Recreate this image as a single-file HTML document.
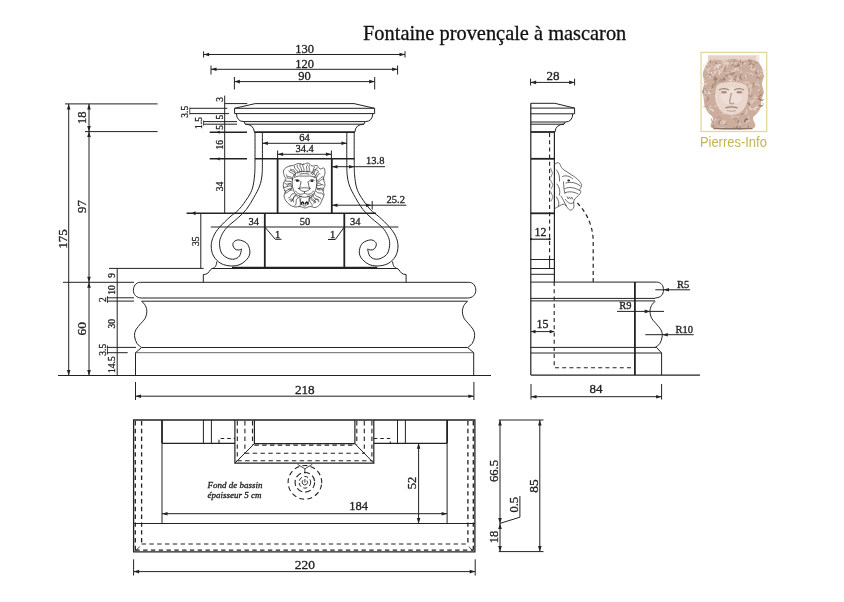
<!DOCTYPE html>
<html><head><meta charset="utf-8"><style>
html,body{margin:0;padding:0;background:#fff;}
svg{display:block;will-change:transform;}
</style></head><body>
<svg width="844" height="602" viewBox="0 0 844 602">
<rect width="844" height="602" fill="#fff"/>
<text x="363" y="39.9" text-anchor="start" font-family="Liberation Serif" font-size="20.4" fill="#111" stroke="#111" stroke-width="0.3" >Fontaine provençale à mascaron</text>
<line x1="203.6" y1="54.5" x2="405" y2="54.5" stroke="#222" stroke-width="1.0"/>
<line x1="203.6" y1="51.3" x2="203.6" y2="57.5" stroke="#222" stroke-width="1.0"/>
<line x1="405" y1="51.3" x2="405" y2="57.5" stroke="#222" stroke-width="1.0"/>
<polygon points="203.60,54.50 209.10,52.70 209.10,56.30" fill="#222"/>
<polygon points="405.00,54.50 399.50,52.70 399.50,56.30" fill="#222"/>
<text x="304.5" y="52.9" text-anchor="middle" font-family="Liberation Serif" font-size="12.5" fill="#222" stroke="#222" stroke-width="0.3" >130</text>
<line x1="211" y1="69.3" x2="397.6" y2="69.3" stroke="#222" stroke-width="1.0"/>
<line x1="211" y1="65.5" x2="211" y2="74.5" stroke="#222" stroke-width="1.0"/>
<line x1="397.6" y1="65.5" x2="397.6" y2="74.5" stroke="#222" stroke-width="1.0"/>
<polygon points="211.00,69.30 216.50,67.50 216.50,71.10" fill="#222"/>
<polygon points="397.60,69.30 392.10,67.50 392.10,71.10" fill="#222"/>
<text x="304.5" y="67.6" text-anchor="middle" font-family="Liberation Serif" font-size="12.5" fill="#222" stroke="#222" stroke-width="0.3" >120</text>
<line x1="234.4" y1="81.6" x2="374.7" y2="81.6" stroke="#222" stroke-width="1.0"/>
<line x1="234.4" y1="77" x2="234.4" y2="89.5" stroke="#222" stroke-width="1.0"/>
<line x1="374.7" y1="77" x2="374.7" y2="89.5" stroke="#222" stroke-width="1.0"/>
<polygon points="234.40,81.60 239.90,79.80 239.90,83.40" fill="#222"/>
<polygon points="374.70,81.60 369.20,79.80 369.20,83.40" fill="#222"/>
<text x="304.5" y="79.9" text-anchor="middle" font-family="Liberation Serif" font-size="12.5" fill="#222" stroke="#222" stroke-width="0.3" >90</text>
<line x1="65" y1="103.9" x2="157.6" y2="103.9" stroke="#222" stroke-width="1.0"/>
<line x1="85" y1="131.6" x2="157.6" y2="131.6" stroke="#222" stroke-width="1.0"/>
<line x1="68.7" y1="103.9" x2="68.7" y2="375.4" stroke="#222" stroke-width="1.0"/>
<polygon points="68.70,103.90 66.90,109.40 70.50,109.40" fill="#222"/>
<polygon points="68.70,375.40 66.90,369.90 70.50,369.90" fill="#222"/>
<line x1="89" y1="103.9" x2="89" y2="375.4" stroke="#222" stroke-width="1.0"/>
<polygon points="89.00,103.90 87.20,109.40 90.80,109.40" fill="#222"/>
<polygon points="89.00,131.60 87.20,126.10 90.80,126.10" fill="#222"/>
<polygon points="89.00,131.60 87.20,137.10 90.80,137.10" fill="#222"/>
<polygon points="89.00,282.30 87.20,276.80 90.80,276.80" fill="#222"/>
<polygon points="89.00,282.30 87.20,287.80 90.80,287.80" fill="#222"/>
<polygon points="89.00,375.40 87.20,369.90 90.80,369.90" fill="#222"/>
<text transform="translate(82.2,117.7) rotate(-90)" text-anchor="middle" dominant-baseline="central" font-family="Liberation Serif" font-size="12.5" fill="#222" stroke="#222" stroke-width="0.3" >18</text>
<text transform="translate(82.4,206.6) rotate(-90)" text-anchor="middle" dominant-baseline="central" font-family="Liberation Serif" font-size="12.8" fill="#222" stroke="#222" stroke-width="0.3" >97</text>
<text transform="translate(62.5,239) rotate(-90)" text-anchor="middle" dominant-baseline="central" font-family="Liberation Serif" font-size="13" fill="#222" stroke="#222" stroke-width="0.3" >175</text>
<text transform="translate(81.9,328.8) rotate(-90)" text-anchor="middle" dominant-baseline="central" font-family="Liberation Serif" font-size="13.5" fill="#222" stroke="#222" stroke-width="0.3" >60</text>
<line x1="63" y1="282.3" x2="134" y2="282.3" stroke="#222" stroke-width="1.0"/>
<line x1="58" y1="375.5" x2="491" y2="375.5" stroke="#222" stroke-width="1.1"/>
<line x1="109" y1="268.4" x2="203.7" y2="268.4" stroke="#222" stroke-width="1.0"/>
<line x1="117.2" y1="268.4" x2="117.2" y2="375.5" stroke="#222" stroke-width="1.0"/>
<line x1="106.8" y1="297.8" x2="134" y2="297.8" stroke="#222" stroke-width="1.0"/>
<line x1="106.8" y1="301.1" x2="134" y2="301.1" stroke="#222" stroke-width="1.0"/>
<line x1="106.8" y1="347.4" x2="136" y2="347.4" stroke="#222" stroke-width="1.0"/>
<line x1="106.8" y1="352.7" x2="127.7" y2="352.7" stroke="#222" stroke-width="1.0"/>
<line x1="107.5" y1="296" x2="107.5" y2="303" stroke="#222" stroke-width="0.8"/>
<line x1="107.5" y1="345.5" x2="107.5" y2="354.5" stroke="#222" stroke-width="0.8"/>
<text transform="translate(111.9,275.3) rotate(-90)" text-anchor="middle" dominant-baseline="central" font-family="Liberation Serif" font-size="9.5" fill="#222" stroke="#222" stroke-width="0.3" >9</text>
<text transform="translate(111.9,290) rotate(-90)" text-anchor="middle" dominant-baseline="central" font-family="Liberation Serif" font-size="9.5" fill="#222" stroke="#222" stroke-width="0.3" >10</text>
<text transform="translate(111.9,323.8) rotate(-90)" text-anchor="middle" dominant-baseline="central" font-family="Liberation Serif" font-size="9.5" fill="#222" stroke="#222" stroke-width="0.3" >30</text>
<text transform="translate(111.9,364.6) rotate(-90)" text-anchor="middle" dominant-baseline="central" font-family="Liberation Serif" font-size="9.5" fill="#222" stroke="#222" stroke-width="0.3" >14.5</text>
<text transform="translate(102.6,299.6) rotate(-90)" text-anchor="middle" dominant-baseline="central" font-family="Liberation Serif" font-size="9.5" fill="#222" stroke="#222" stroke-width="0.3" >2</text>
<text transform="translate(103,349.7) rotate(-90)" text-anchor="middle" dominant-baseline="central" font-family="Liberation Serif" font-size="9.5" fill="#222" stroke="#222" stroke-width="0.3" >3.5</text>
<line x1="140.5" y1="282.3" x2="468.7" y2="282.3" stroke="#222" stroke-width="1.0"/>
<path d="M140.5,282.3 C135.5,282.3 133.4,286.5 133.4,290.3 C133.4,294.5 136.5,298 141.6,298" fill="none" stroke="#222" stroke-width="1.0"/>
<path d="M468.7,282.3 C473.7,282.3 475.8,286.5 475.8,290.3 C475.8,294.5 472.7,298 467.6,298" fill="none" stroke="#222" stroke-width="1.0"/>
<line x1="141.6" y1="298" x2="467.6" y2="298" stroke="#222" stroke-width="1.0"/>
<line x1="141.6" y1="301.2" x2="467.6" y2="301.2" stroke="#222" stroke-width="1.0"/>
<path d="M141.60,301.20 C142.22,301.92 144.43,303.78 145.30,305.50 C146.17,307.22 146.85,309.33 146.80,311.50 C146.75,313.67 146.22,316.25 145.00,318.50 C143.78,320.75 141.12,322.92 139.50,325.00 C137.88,327.08 136.10,329.00 135.30,331.00 C134.50,333.00 134.42,334.92 134.70,337.00 C134.98,339.08 135.85,341.75 137.00,343.50 C138.15,345.25 140.83,346.83 141.60,347.50" fill="none" stroke="#222" stroke-width="1.0"/>
<path d="M467.60,301.20 C466.98,301.92 464.77,303.78 463.90,305.50 C463.03,307.22 462.35,309.33 462.40,311.50 C462.45,313.67 462.98,316.25 464.20,318.50 C465.42,320.75 468.08,322.92 469.70,325.00 C471.32,327.08 473.10,329.00 473.90,331.00 C474.70,333.00 474.78,334.92 474.50,337.00 C474.22,339.08 473.35,341.75 472.20,343.50 C471.05,345.25 468.37,346.83 467.60,347.50" fill="none" stroke="#222" stroke-width="1.0"/>
<line x1="141.6" y1="347.5" x2="467.6" y2="347.5" stroke="#222" stroke-width="1.0"/>
<line x1="135.5" y1="352.7" x2="473.7" y2="352.7" stroke="#555" stroke-width="0.9"/>
<polyline points="141.6,347.5 135.5,352.7 135.5,375.5" fill="none" stroke="#222" stroke-width="1.0"/>
<polyline points="467.6,347.5 473.7,352.7 473.7,375.5" fill="none" stroke="#222" stroke-width="1.0"/>
<line x1="135.5" y1="382" x2="135.5" y2="400" stroke="#222" stroke-width="1.0"/>
<line x1="473.9" y1="382" x2="473.9" y2="400" stroke="#222" stroke-width="1.0"/>
<line x1="135.5" y1="396.2" x2="473.9" y2="396.2" stroke="#222" stroke-width="1.0"/>
<polygon points="135.50,396.20 141.00,394.40 141.00,398.00" fill="#222"/>
<polygon points="473.90,396.20 468.40,394.40 468.40,398.00" fill="#222"/>
<text x="304.8" y="393.7" text-anchor="middle" font-family="Liberation Serif" font-size="13.2" fill="#222" stroke="#222" stroke-width="0.3" >218</text>
<line x1="224.7" y1="95.6" x2="224.7" y2="213.3" stroke="#222" stroke-width="1.0"/>
<line x1="224.7" y1="103.6" x2="247.3" y2="103.6" stroke="#222" stroke-width="1.0"/>
<line x1="255.2" y1="103.6" x2="354" y2="103.6" stroke="#222" stroke-width="1.0"/>
<polyline points="255.2,103.6 234.6,108.3 234.6,113.6" fill="none" stroke="#222" stroke-width="1.0"/>
<polyline points="354,103.6 374.6,108.3 374.6,113.6" fill="none" stroke="#222" stroke-width="1.0"/>
<line x1="234.6" y1="108.3" x2="374.6" y2="108.3" stroke="#222" stroke-width="1.0"/>
<line x1="234.6" y1="113.6" x2="374.6" y2="113.6" stroke="#222" stroke-width="1.0"/>
<path d="M236.4,113.6 Q236.8,121.6 244,121.6" fill="none" stroke="#222" stroke-width="1.0"/>
<path d="M372.8,113.6 Q372.4,121.6 365.2,121.6" fill="none" stroke="#222" stroke-width="1.0"/>
<line x1="244" y1="121.6" x2="365.2" y2="121.6" stroke="#222" stroke-width="1.0"/>
<line x1="244" y1="121.6" x2="245.3" y2="124.2" stroke="#222" stroke-width="1.0"/>
<line x1="365.2" y1="121.6" x2="363.9" y2="124.2" stroke="#222" stroke-width="1.0"/>
<line x1="245.3" y1="124.2" x2="363.9" y2="124.2" stroke="#222" stroke-width="1.0"/>
<path d="M245.3,124.2 Q253.8,124.4 254.4,132.2" fill="none" stroke="#222" stroke-width="1.0"/>
<path d="M363.9,124.2 Q355.4,124.4 354.8,132.2" fill="none" stroke="#222" stroke-width="1.0"/>
<line x1="254.4" y1="132.2" x2="354.8" y2="132.2" stroke="#222" stroke-width="1.8"/>
<line x1="189.8" y1="108.3" x2="227.2" y2="108.3" stroke="#222" stroke-width="1.0"/>
<line x1="189.8" y1="113.6" x2="229" y2="113.6" stroke="#222" stroke-width="1.0"/>
<line x1="203.5" y1="121.6" x2="237" y2="121.6" stroke="#222" stroke-width="1.0"/>
<line x1="203.5" y1="124.2" x2="237" y2="124.2" stroke="#222" stroke-width="1.0"/>
<line x1="209.7" y1="132.2" x2="247" y2="132.2" stroke="#222" stroke-width="1.6"/>
<line x1="209.7" y1="158.8" x2="247" y2="158.8" stroke="#222" stroke-width="1.6"/>
<line x1="189.8" y1="107.5" x2="189.8" y2="114.5" stroke="#222" stroke-width="0.8"/>
<line x1="203.5" y1="120.5" x2="203.5" y2="125.5" stroke="#222" stroke-width="0.8"/>
<polygon points="216.60,132.20 219.60,130.60 219.60,133.80" fill="#222"/>
<polygon points="216.60,158.80 219.60,157.20 219.60,160.40" fill="#222"/>
<text transform="translate(220.3,99.3) rotate(-90)" text-anchor="middle" dominant-baseline="central" font-family="Liberation Serif" font-size="9.5" fill="#222" stroke="#222" stroke-width="0.3" >3</text>
<text transform="translate(220.3,117) rotate(-90)" text-anchor="middle" dominant-baseline="central" font-family="Liberation Serif" font-size="9.5" fill="#222" stroke="#222" stroke-width="0.3" >5</text>
<text transform="translate(220.3,127.4) rotate(-90)" text-anchor="middle" dominant-baseline="central" font-family="Liberation Serif" font-size="9.5" fill="#222" stroke="#222" stroke-width="0.3" >5</text>
<text transform="translate(220.3,144.8) rotate(-90)" text-anchor="middle" dominant-baseline="central" font-family="Liberation Serif" font-size="9.5" fill="#222" stroke="#222" stroke-width="0.3" >16</text>
<text transform="translate(220.3,186.6) rotate(-90)" text-anchor="middle" dominant-baseline="central" font-family="Liberation Serif" font-size="9.5" fill="#222" stroke="#222" stroke-width="0.3" >34</text>
<text transform="translate(184.8,111.8) rotate(-90)" text-anchor="middle" dominant-baseline="central" font-family="Liberation Serif" font-size="9.5" fill="#222" stroke="#222" stroke-width="0.3" >3.5</text>
<text transform="translate(199.2,123) rotate(-90)" text-anchor="middle" dominant-baseline="central" font-family="Liberation Serif" font-size="9.5" fill="#222" stroke="#222" stroke-width="0.3" >1.5</text>
<path d="M255.00,132.20 C255.00,136.83 255.07,152.87 255.00,160.00 C254.93,167.13 255.02,170.33 254.60,175.00 C254.18,179.67 253.62,184.27 252.50,188.00 C251.38,191.73 250.15,193.83 247.90,197.40 C245.65,200.97 241.98,206.15 239.00,209.40 C236.02,212.65 233.25,213.92 230.00,216.90 C226.75,219.88 222.25,224.07 219.50,227.30 C216.75,230.53 214.88,233.18 213.50,236.30 C212.12,239.42 211.20,242.72 211.20,246.00 C211.20,249.28 211.87,253.08 213.50,256.00 C215.13,258.92 217.97,261.83 221.00,263.50 C224.03,265.17 228.37,265.92 231.70,266.00 C235.03,266.08 238.23,265.42 241.00,264.00 C243.77,262.58 246.83,259.78 248.30,257.50 C249.77,255.22 250.10,252.72 249.80,250.30 C249.50,247.88 248.35,244.73 246.50,243.00 C244.65,241.27 240.78,240.10 238.70,239.90 C236.62,239.70 234.97,240.93 234.00,241.80 C233.03,242.67 232.73,243.90 232.90,245.10 C233.07,246.30 234.07,248.18 235.00,249.00 C235.93,249.82 237.40,250.00 238.50,250.00 C239.60,250.00 241.08,249.17 241.60,249.00" fill="none" stroke="#222" stroke-width="1.0"/>
<path d="M354.20,132.20 C354.20,136.83 354.13,152.87 354.20,160.00 C354.27,167.13 354.18,170.33 354.60,175.00 C355.02,179.67 355.58,184.27 356.70,188.00 C357.82,191.73 359.05,193.83 361.30,197.40 C363.55,200.97 367.22,206.15 370.20,209.40 C373.18,212.65 375.95,213.92 379.20,216.90 C382.45,219.88 386.95,224.07 389.70,227.30 C392.45,230.53 394.32,233.18 395.70,236.30 C397.08,239.42 398.00,242.72 398.00,246.00 C398.00,249.28 397.33,253.08 395.70,256.00 C394.07,258.92 391.23,261.83 388.20,263.50 C385.17,265.17 380.83,265.92 377.50,266.00 C374.17,266.08 370.97,265.42 368.20,264.00 C365.43,262.58 362.37,259.78 360.90,257.50 C359.43,255.22 359.10,252.72 359.40,250.30 C359.70,247.88 360.85,244.73 362.70,243.00 C364.55,241.27 368.42,240.10 370.50,239.90 C372.58,239.70 374.23,240.93 375.20,241.80 C376.17,242.67 376.47,243.90 376.30,245.10 C376.13,246.30 375.13,248.18 374.20,249.00 C373.27,249.82 371.80,250.00 370.70,250.00 C369.60,250.00 368.12,249.17 367.60,249.00" fill="none" stroke="#222" stroke-width="1.0"/>
<path d="M262.40,132.20 C262.40,136.83 262.47,152.87 262.40,160.00 C262.33,167.13 262.47,170.67 262.00,175.00 C261.53,179.33 260.95,182.27 259.60,186.00 C258.25,189.73 256.10,193.50 253.90,197.40 C251.70,201.30 249.15,205.90 246.40,209.40 C243.65,212.90 240.63,215.42 237.40,218.40 C234.17,221.38 229.65,224.45 227.00,227.30 C224.35,230.15 222.75,232.82 221.50,235.50 C220.25,238.18 219.50,240.48 219.50,243.40 C219.50,246.32 220.17,250.57 221.50,253.00 C222.83,255.43 225.40,256.98 227.50,258.00 C229.60,259.02 232.10,259.43 234.10,259.10 C236.10,258.77 238.25,257.65 239.50,256.00 C240.75,254.35 241.25,250.33 241.60,249.20" fill="none" stroke="#222" stroke-width="1.0"/>
<path d="M346.80,132.20 C346.80,136.83 346.73,152.87 346.80,160.00 C346.87,167.13 346.73,170.67 347.20,175.00 C347.67,179.33 348.25,182.27 349.60,186.00 C350.95,189.73 353.10,193.50 355.30,197.40 C357.50,201.30 360.05,205.90 362.80,209.40 C365.55,212.90 368.57,215.42 371.80,218.40 C375.03,221.38 379.55,224.45 382.20,227.30 C384.85,230.15 386.45,232.82 387.70,235.50 C388.95,238.18 389.70,240.48 389.70,243.40 C389.70,246.32 389.03,250.57 387.70,253.00 C386.37,255.43 383.80,256.98 381.70,258.00 C379.60,259.02 377.10,259.43 375.10,259.10 C373.10,258.77 370.95,257.65 369.70,256.00 C368.45,254.35 367.95,250.33 367.60,249.20" fill="none" stroke="#222" stroke-width="1.0"/>
<path d="M203.3,282.3 L203.3,274.5 L205.8,274.2 C209,273.5 209.8,269.5 211.6,268.8 C214.5,268 216.5,266.5 216.8,261.5" fill="none" stroke="#222" stroke-width="1.0"/>
<path d="M406.1,282.3 L406.1,274.5 L403.6,274.2 C400.4,273.5 399.6,269.5 397.8,268.8 C394.9,268 392.9,266.5 392.6,261.5" fill="none" stroke="#222" stroke-width="1.0"/>
<line x1="211.6" y1="268.5" x2="397.6" y2="268.5" stroke="#222" stroke-width="1.0"/>
<line x1="232" y1="267.3" x2="377.2" y2="267.3" stroke="#222" stroke-width="1.3"/>
<line x1="255" y1="158.8" x2="354.4" y2="158.8" stroke="#222" stroke-width="1.6"/>
<polyline points="277.6,159 277.6,213.3" fill="none" stroke="#222" stroke-width="1.8"/>
<polyline points="331.8,159 331.8,213.3" fill="none" stroke="#222" stroke-width="1.8"/>
<line x1="186.6" y1="213.3" x2="376" y2="213.3" stroke="#222" stroke-width="1.6"/>
<polygon points="191.50,213.30 195.50,211.30 195.50,215.30" fill="#222"/>
<line x1="262.4" y1="143.3" x2="346.9" y2="143.3" stroke="#222" stroke-width="1.0"/>
<polygon points="262.40,143.30 267.90,141.50 267.90,145.10" fill="#222"/>
<polygon points="346.90,143.30 341.40,141.50 341.40,145.10" fill="#222"/>
<text x="304.6" y="141" text-anchor="middle" font-family="Liberation Serif" font-size="10.5" fill="#222" stroke="#222" stroke-width="0.3" >64</text>
<line x1="277.6" y1="154.3" x2="331.4" y2="154.3" stroke="#222" stroke-width="1.0"/>
<line x1="277.6" y1="150.5" x2="277.6" y2="159" stroke="#222" stroke-width="1.0"/>
<line x1="331.4" y1="150.5" x2="331.4" y2="159" stroke="#222" stroke-width="1.0"/>
<polygon points="277.60,154.30 283.10,152.50 283.10,156.10" fill="#222"/>
<polygon points="331.40,154.30 325.90,152.50 325.90,156.10" fill="#222"/>
<text x="304.6" y="152" text-anchor="middle" font-family="Liberation Serif" font-size="10.5" fill="#222" stroke="#222" stroke-width="0.3" >34.4</text>
<line x1="332" y1="166.7" x2="385" y2="166.7" stroke="#222" stroke-width="1.0"/>
<polygon points="332.00,166.70 337.50,164.90 337.50,168.50" fill="#222"/>
<polygon points="354.50,166.70 349.00,164.90 349.00,168.50" fill="#222"/>
<text x="375.3" y="164.4" text-anchor="middle" font-family="Liberation Serif" font-size="10.5" fill="#222" stroke="#222" stroke-width="0.3" >13.8</text>
<line x1="332" y1="205.2" x2="406.4" y2="205.2" stroke="#222" stroke-width="1.0"/>
<polygon points="332.00,205.20 337.50,203.40 337.50,207.00" fill="#222"/>
<polygon points="371.50,205.20 366.00,203.40 366.00,207.00" fill="#222"/>
<line x1="372.2" y1="201" x2="372.2" y2="209.5" stroke="#222" stroke-width="1.0"/>
<text x="395.7" y="203.2" text-anchor="middle" font-family="Liberation Serif" font-size="10.5" fill="#222" stroke="#222" stroke-width="0.3" >25.2</text>
<line x1="200.8" y1="213.3" x2="200.8" y2="268.2" stroke="#222" stroke-width="1.0"/>
<text transform="translate(196,241.3) rotate(-90)" text-anchor="middle" dominant-baseline="central" font-family="Liberation Serif" font-size="9.5" fill="#222" stroke="#222" stroke-width="0.3" >35</text>
<line x1="210.8" y1="227" x2="398.4" y2="227" stroke="#222" stroke-width="1.0"/>
<line x1="264.8" y1="213.3" x2="264.8" y2="267.3" stroke="#222" stroke-width="1.8"/>
<line x1="344.3" y1="213.3" x2="344.3" y2="267.3" stroke="#222" stroke-width="1.8"/>
<text x="253.7" y="225" text-anchor="middle" font-family="Liberation Serif" font-size="10.5" fill="#222" stroke="#222" stroke-width="0.3" >34</text>
<text x="304.9" y="225.1" text-anchor="middle" font-family="Liberation Serif" font-size="10.5" fill="#222" stroke="#222" stroke-width="0.3" >50</text>
<text x="355.2" y="225" text-anchor="middle" font-family="Liberation Serif" font-size="10.5" fill="#222" stroke="#222" stroke-width="0.3" >34</text>
<polyline points="264.8,227 275.3,239.3 281.5,239.3" fill="none" stroke="#222" stroke-width="1.0"/>
<text x="277.5" y="237.5" text-anchor="middle" font-family="Liberation Serif" font-size="10.5" fill="#222" stroke="#222" stroke-width="0.3" >1</text>
<polyline points="344.3,227 335.3,239.5 328,239.5" fill="none" stroke="#222" stroke-width="1.0"/>
<text x="332.5" y="237.5" text-anchor="middle" font-family="Liberation Serif" font-size="10.5" fill="#222" stroke="#222" stroke-width="0.3" >1</text>
<g fill="none" stroke="#383838" stroke-width="0.75" stroke-linecap="round">
<path d="M290.00,166.00 C289.33,166.25 287.08,166.67 286.00,167.50 C284.92,168.33 283.78,169.58 283.50,171.00 C283.22,172.42 283.88,174.67 284.30,176.00 C284.72,177.33 286.13,177.83 286.00,179.00 C285.87,180.17 283.90,181.50 283.50,183.00 C283.10,184.50 283.27,186.50 283.60,188.00 C283.93,189.50 285.43,190.67 285.50,192.00 C285.57,193.33 283.92,194.50 284.00,196.00 C284.08,197.50 285.00,199.50 286.00,201.00 C287.00,202.50 288.50,204.00 290.00,205.00 C291.50,206.00 293.33,206.75 295.00,207.00 C296.67,207.25 298.33,206.33 300.00,206.50 C301.67,206.67 303.33,208.00 305.00,208.00 C306.67,208.00 308.33,206.58 310.00,206.50 C311.67,206.42 313.42,207.75 315.00,207.50 C316.58,207.25 318.33,206.25 319.50,205.00 C320.67,203.75 321.25,201.67 322.00,200.00 C322.75,198.33 323.83,196.67 324.00,195.00 C324.17,193.33 322.83,191.67 323.00,190.00 C323.17,188.33 324.92,186.83 325.00,185.00 C325.08,183.17 323.50,181.00 323.50,179.00 C323.50,177.00 324.92,174.83 325.00,173.00 C325.08,171.17 324.83,168.67 324.00,168.00 C323.17,167.33 321.17,169.42 320.00,169.00 C318.83,168.58 318.33,166.00 317.00,165.50 C315.67,165.00 313.50,166.42 312.00,166.00 C310.50,165.58 309.50,163.25 308.00,163.00 C306.50,162.75 304.67,164.42 303.00,164.50 C301.33,164.58 299.42,163.42 298.00,163.50 C296.58,163.58 295.83,164.58 294.50,165.00 C293.17,165.42 290.75,165.83 290.00,166.00"/>
<path d="M303.7,171.7 C305.8,168.8 300.7,165.8 303.4,163.7"/>
<path d="M306.6,172.0 C308.5,169.8 304.3,166.2 307.7,165.0"/>
<path d="M307.9,172.3 C311.9,170.8 307.0,166.3 309.8,165.2"/>
<path d="M310.9,173.8 C314.6,172.9 312.2,167.8 314.7,167.0"/>
<path d="M312.3,174.8 C316.0,174.1 313.8,167.9 317.3,168.0"/>
<path d="M313.9,176.5 C317.5,177.1 315.7,171.0 318.7,171.8"/>
<path d="M314.7,177.6 C318.4,178.9 317.2,172.6 319.9,173.6"/>
<path d="M316.1,180.4 C319.8,182.0 320.5,174.9 323.6,177.2"/>
<path d="M316.6,181.9 C319.9,183.4 321.4,177.0 324.2,179.6"/>
<path d="M317.0,185.2 C319.3,186.9 321.8,183.1 323.5,185.0"/>
<path d="M316.9,187.7 C318.9,190.8 322.5,186.5 323.9,188.9"/>
<path d="M316.6,188.9 C318.5,191.7 322.4,187.7 323.5,190.8"/>
<path d="M315.9,191.2 C317.3,195.1 322.8,190.9 323.2,194.9"/>
<path d="M314.5,193.7 C315.1,197.8 320.6,196.2 321.1,199.0"/>
<path d="M313.1,195.4 C312.7,199.9 319.3,198.4 318.8,201.8"/>
<path d="M311.7,196.6 C310.5,200.6 316.8,199.6 315.7,202.6"/>
<path d="M310.7,197.4 C309.1,201.1 316.1,200.2 313.9,203.4"/>
<path d="M309.2,198.2 C308.1,201.9 313.1,203.5 312.2,206.1"/>
<path d="M300.9,198.8 C298.7,201.2 302.3,205.5 299.0,206.7"/>
<path d="M298.4,197.8 C294.0,199.0 297.9,204.8 294.8,205.6"/>
<path d="M295.5,195.7 C292.7,196.5 294.0,201.7 290.9,201.2"/>
<path d="M295.4,195.6 C292.2,195.8 294.0,201.4 290.9,200.9"/>
<path d="M293.9,193.7 C290.2,192.5 291.3,198.5 288.7,197.8"/>
<path d="M292.1,190.1 C288.7,189.0 287.2,194.6 284.5,193.0"/>
<path d="M291.8,188.8 C288.5,186.9 286.9,192.9 284.4,190.8"/>
<path d="M291.4,186.4 C288.4,184.1 285.5,189.2 283.3,186.9"/>
<path d="M291.5,183.9 C289.4,181.5 286.0,186.7 284.8,183.0"/>
<path d="M291.8,182.1 C289.7,179.9 285.9,182.8 284.6,180.1"/>
<path d="M292.5,179.8 C291.6,176.3 287.1,180.2 286.8,176.9"/>
<path d="M293.0,178.8 C291.9,175.3 286.7,178.3 286.4,174.8"/>
<path d="M294.6,176.4 C294.5,172.2 289.2,173.4 288.8,170.9"/>
<path d="M295.6,175.3 C296.4,170.8 290.3,171.9 290.5,169.1"/>
<path d="M298.0,173.4 C298.6,169.9 293.4,169.2 294.4,166.3"/>
<path d="M299.7,172.6 C301.3,169.2 295.9,168.0 297.2,165.4"/>
<path d="M301.8,172.0 C302.9,168.7 298.2,166.2 300.4,163.6"/>
<path d="M287,186 C288.5,183 292,183.5 292,187 C292,190 289,190.5 288,189"/>
<path d="M321.5,185 C320,182 316.5,182.5 316.5,186 C316.5,189 319.5,189.5 320.5,188"/>
<path d="M290,171 C292,168.5 295.5,169.5 295,172.5"/>
<path d="M318,171 C316,168.5 312.5,169.5 313,172.5"/>
<path d="M289,200 C291,198 294,199 293.5,202"/>
<path d="M319,200 C317,198 314,199 314.5,202"/>
<path d="M292.5,179 C293,173 298,171 304.5,171.5 C311,171 316,173 316.5,179 C317.5,186 316,192 311,197.5 M292.5,179 C291.5,186 293,192 298,197.5"/>
<path d="M294.5,177.5 C298,175 301.5,176.5 304.5,176 C307.5,176.5 311,175 314.5,177.5"/>
<path d="M300,174.2 C303,173.2 306,173.2 309,174.2"/>
<path d="M294.8,180.2 C296.5,178.8 299,179.3 300.5,181.8 M308.5,181.8 C310,179.3 312.5,178.8 314.2,180.2"/>
<ellipse cx="297.4" cy="180.8" rx="1.6" ry="1.1" fill="#1e1e1e" stroke="none"/><ellipse cx="312" cy="181" rx="1.6" ry="1.1" fill="#1e1e1e" stroke="none"/>
<path d="M301,182 C300.5,184.5 300,186.5 299.5,188.5 M308,182 C308.5,184.5 309,186.5 309.5,188.5"/>
<path d="M298.5,188.5 C301,187.5 308,187.5 310.5,188.5 C309,190.5 306,191.5 304.5,191.5 C303,191.5 300,190.5 298.5,188.5 Z"/>
<path d="M304.5,191.5 L304.5,193 M304.5,193 C302,195 298,195 295.5,191 M304.5,193 C307,195 311,195 313.5,191"/>
<path d="M296,194 C298,196 300,196.5 301.5,196.3 M313,194 C311,196 309,196.5 307.5,196.3"/>
<path d="M299.8,196.3 C299.6,201.5 301.8,206 304.6,206 C307.4,206 309.6,201.5 309.4,196.3 C306.5,197.5 302.7,197.5 299.8,196.3 Z"/>
<path d="M301.3,204 C301.8,201.3 303.3,201.2 303.8,203.8 M305.5,203.8 C306,201.2 307.5,201.3 308,204" stroke-width="1.5" stroke="#1e1e1e"/>
</g>
<line x1="530.6" y1="82.4" x2="574.6" y2="82.4" stroke="#222" stroke-width="1.0"/>
<line x1="530.6" y1="78.7" x2="530.6" y2="85.5" stroke="#222" stroke-width="1.0"/>
<line x1="574.6" y1="78.7" x2="574.6" y2="85.5" stroke="#222" stroke-width="1.0"/>
<polygon points="530.60,82.40 536.10,80.60 536.10,84.20" fill="#222"/>
<polygon points="574.60,82.40 569.10,80.60 569.10,84.20" fill="#222"/>
<text x="553" y="79.6" text-anchor="middle" font-family="Liberation Serif" font-size="13" fill="#222" stroke="#222" stroke-width="0.3" >28</text>
<line x1="530.8" y1="103.3" x2="530.8" y2="375.1" stroke="#222" stroke-width="1.2"/>
<polyline points="530.8,103.3 554.8,103.3 574.6,108.1 574.6,113.8" fill="none" stroke="#222" stroke-width="1.0"/>
<line x1="530.8" y1="108.1" x2="574.6" y2="108.1" stroke="#222" stroke-width="1.0"/>
<line x1="530.8" y1="113.8" x2="574.6" y2="113.8" stroke="#222" stroke-width="1.0"/>
<path d="M572.8,113.8 Q572.4,122 565.3,122" fill="none" stroke="#222" stroke-width="1.0"/>
<line x1="530.8" y1="122" x2="565.3" y2="122" stroke="#222" stroke-width="1.0"/>
<line x1="565.3" y1="122" x2="564" y2="124.2" stroke="#222" stroke-width="1.0"/>
<line x1="530.8" y1="124.2" x2="564" y2="124.2" stroke="#222" stroke-width="1.0"/>
<path d="M564,124.2 Q555.6,124.4 555,132" fill="none" stroke="#222" stroke-width="1.0"/>
<line x1="530.8" y1="132" x2="555" y2="132" stroke="#222" stroke-width="1.8"/>
<line x1="554.4" y1="132" x2="554.4" y2="282.1" stroke="#222" stroke-width="1.2"/>
<line x1="549.6" y1="133" x2="549.6" y2="259.5" stroke="#222" stroke-width="1.1" stroke-dasharray="4,3.2"/>
<line x1="549.6" y1="259.5" x2="549.6" y2="268.5" stroke="#222" stroke-width="1.0"/>
<line x1="530.8" y1="158.8" x2="554.4" y2="158.8" stroke="#222" stroke-width="1.8"/>
<line x1="530.8" y1="213.3" x2="554.4" y2="213.3" stroke="#222" stroke-width="1.8"/>
<text x="540.6" y="235.9" text-anchor="middle" font-family="Liberation Serif" font-size="12" fill="#222" stroke="#222" stroke-width="0.3" >12</text>
<line x1="530.8" y1="239.2" x2="549.6" y2="239.2" stroke="#222" stroke-width="1.2"/>
<circle cx="531" cy="239.2" r="1.1" fill="#222"/><circle cx="549.6" cy="239.2" r="1.1" fill="#222"/>
<line x1="530.8" y1="259.5" x2="554.4" y2="259.5" stroke="#222" stroke-width="1.0"/>
<line x1="530.8" y1="268.5" x2="554.4" y2="268.5" stroke="#222" stroke-width="1.0"/>
<line x1="530.8" y1="274.3" x2="554.4" y2="274.3" stroke="#222" stroke-width="1.0"/>
<g fill="none" stroke="#3a3a3a" stroke-width="0.75" stroke-linecap="round">
<path d="M554.60,164.50 C555.00,164.22 556.18,162.97 557.00,162.80 C557.82,162.63 558.75,162.72 559.50,163.50 C560.25,164.28 560.75,166.42 561.50,167.50 C562.25,168.58 562.92,169.17 564.00,170.00 C565.08,170.83 566.77,171.70 568.00,172.50 C569.23,173.30 570.15,173.97 571.40,174.80 C572.65,175.63 574.15,176.42 575.50,177.50 C576.85,178.58 578.47,179.95 579.50,181.30 C580.53,182.65 581.65,184.23 581.70,185.60 C581.75,186.97 579.95,188.43 579.80,189.50 C579.65,190.57 581.02,191.00 580.80,192.00 C580.58,193.00 579.43,194.42 578.50,195.50 C577.57,196.58 576.02,197.42 575.20,198.50 C574.38,199.58 573.80,200.67 573.60,202.00 C573.40,203.33 574.22,205.25 574.00,206.50 C573.78,207.75 573.05,208.95 572.30,209.50 C571.55,210.05 570.47,210.30 569.50,209.80 C568.53,209.30 567.35,207.43 566.50,206.50 C565.65,205.57 565.23,204.48 564.40,204.20 C563.57,203.92 562.48,204.42 561.50,204.80 C560.52,205.18 559.55,205.92 558.50,206.50 C557.45,207.08 555.75,208.00 555.20,208.30"/>
<path d="M562.5,176.5 C565.5,175 569.5,176 572.5,178.5"/>
<path d="M566,183 C570.5,181.5 576,182.5 580.5,186"/>
<path d="M565,188.5 C569.5,186.5 575,187.5 579.5,190.5"/>
<path d="M564.5,193 C568.5,191 574,191.5 578,194"/>
<path d="M567,196.5 l1.2,2.5 l1.2,-2.2 l1.2,2.4 l1.2,-2.2 l1.2,2.3" stroke-width="0.6"/>
<path d="M565.5,199.5 C568,203.5 571,204.5 573.8,202.5"/>
<path d="M563.5,182 C564,186 563.5,190 565,193 M561,196 C563,199 564,202 566.5,206"/>
<path d="M556.5,170 C559,173 560,177 559.5,181 M557,184 C559.5,187 560.5,191 559.5,195 M556.5,197 C558.5,200 559.5,203 558.5,206"/>
<path d="M550.5,168 l2,5 l-1.5,4 M550.5,180 l2.5,5 l-2,4 M550.8,192 l2.2,5 l-1.8,4" stroke-width="0.6"/>
<ellipse cx="568.7" cy="180.6" rx="1.4" ry="1" fill="#222" stroke="none"/>
</g>
<path d="M577.4,203 C584,210 592.5,222 593.2,240 L593.2,282.1" fill="none" stroke="#222" stroke-width="1.2" stroke-dasharray="4,3.2"/>
<line x1="530.8" y1="282.1" x2="656.5" y2="282.1" stroke="#222" stroke-width="1.0"/>
<path d="M656.5,282.1 C661.5,282.1 663.5,286 663.5,289.8 C663.5,294 661,297.9 655.3,297.9" fill="none" stroke="#222" stroke-width="1.0"/>
<line x1="530.8" y1="298.4" x2="655.3" y2="298.4" stroke="#222" stroke-width="1.0"/>
<line x1="530.8" y1="300.9" x2="655" y2="300.9" stroke="#222" stroke-width="1.0"/>
<path d="M655.20,301.20 C654.58,301.92 652.37,303.78 651.50,305.50 C650.63,307.22 649.95,309.33 650.00,311.50 C650.05,313.67 650.58,316.25 651.80,318.50 C653.02,320.75 655.68,322.92 657.30,325.00 C658.92,327.08 660.70,329.00 661.50,331.00 C662.30,333.00 662.38,334.92 662.10,337.00 C661.82,339.08 660.95,341.75 659.80,343.50 C658.65,345.25 655.97,346.83 655.20,347.50" fill="none" stroke="#222" stroke-width="1.0"/>
<line x1="530.8" y1="347.4" x2="656.5" y2="347.4" stroke="#222" stroke-width="1.0"/>
<polyline points="656.5,347.4 661.6,353 661.6,375.1" fill="none" stroke="#222" stroke-width="1.0"/>
<line x1="530.8" y1="353" x2="661.6" y2="353" stroke="#222" stroke-width="1.0"/>
<line x1="530.8" y1="375.1" x2="700" y2="375.1" stroke="#222" stroke-width="1.1"/>
<line x1="634.9" y1="282.1" x2="634.9" y2="375.1" stroke="#222" stroke-width="1.8"/>
<polyline points="554.2,282.1 554.2,367.7 634.9,367.7" fill="none" stroke="#222" stroke-width="1.1" stroke-dasharray="4,3.2"/>
<text x="542.6" y="328.1" text-anchor="middle" font-family="Liberation Serif" font-size="12" fill="#222" stroke="#222" stroke-width="0.3" >15</text>
<line x1="531" y1="331.6" x2="554.2" y2="331.6" stroke="#222" stroke-width="1.0"/>
<polygon points="531.00,331.60 535.50,329.80 535.50,333.40" fill="#222"/>
<polygon points="554.20,331.60 549.70,329.80 549.70,333.40" fill="#222"/>
<line x1="655.3" y1="289.8" x2="690.2" y2="289.8" stroke="#222" stroke-width="1.0"/>
<polygon points="663.50,289.80 669.00,288.00 669.00,291.60" fill="#222"/>
<text x="677" y="288" text-anchor="start" font-family="Liberation Serif" font-size="10.5" fill="#222" stroke="#222" stroke-width="0.3" >R5</text>
<line x1="617" y1="311.4" x2="664" y2="311.4" stroke="#222" stroke-width="1.0"/>
<polygon points="650.20,311.40 644.70,309.60 644.70,313.20" fill="#222"/>
<text x="619.3" y="309" text-anchor="start" font-family="Liberation Serif" font-size="10.5" fill="#222" stroke="#222" stroke-width="0.3" >R9</text>
<line x1="645.3" y1="334.7" x2="693.7" y2="334.7" stroke="#222" stroke-width="1.0"/>
<polygon points="662.30,334.70 667.80,332.90 667.80,336.50" fill="#222"/>
<text x="675.6" y="332.5" text-anchor="start" font-family="Liberation Serif" font-size="10.5" fill="#222" stroke="#222" stroke-width="0.3" >R10</text>
<line x1="531" y1="396.7" x2="661.6" y2="396.7" stroke="#222" stroke-width="1.0"/>
<line x1="531" y1="384" x2="531" y2="399.5" stroke="#222" stroke-width="1.0"/>
<line x1="661.6" y1="384" x2="661.6" y2="399.5" stroke="#222" stroke-width="1.0"/>
<polygon points="531.00,396.70 536.50,394.90 536.50,398.50" fill="#222"/>
<polygon points="661.60,396.70 656.10,394.90 656.10,398.50" fill="#222"/>
<text x="596" y="393.3" text-anchor="middle" font-family="Liberation Serif" font-size="13" fill="#222" stroke="#222" stroke-width="0.3" >84</text>
<polygon points="133.6,420 474.9,420 474.9,551.8 133.6,551.8" fill="none" stroke="#222" stroke-width="1.3"/>
<line x1="135.3" y1="421" x2="135.3" y2="550.5" stroke="#222" stroke-width="1.3" stroke-dasharray="4.4,3.4"/>
<line x1="141.6" y1="421" x2="141.6" y2="544" stroke="#222" stroke-width="1.3" stroke-dasharray="4.4,3.4"/>
<line x1="473.3" y1="421" x2="473.3" y2="550.5" stroke="#222" stroke-width="1.3" stroke-dasharray="4.4,3.4"/>
<line x1="467.9" y1="421" x2="467.9" y2="544" stroke="#222" stroke-width="1.3" stroke-dasharray="4.4,3.4"/>
<line x1="141.6" y1="544" x2="467.9" y2="544" stroke="#222" stroke-width="1.2" stroke-dasharray="4.4,3.4"/>
<line x1="135.3" y1="550.2" x2="473.3" y2="550.2" stroke="#222" stroke-width="1.2" stroke-dasharray="4.4,3.4"/>
<line x1="135.5" y1="551" x2="139.8" y2="546.5" stroke="#222" stroke-width="0.9"/>
<line x1="473.1" y1="551" x2="468.8" y2="546.5" stroke="#222" stroke-width="0.9"/>
<line x1="162" y1="420" x2="162" y2="443.3" stroke="#222" stroke-width="1.8"/>
<line x1="162" y1="443.3" x2="162" y2="523.5" stroke="#222" stroke-width="1.0"/>
<line x1="447.1" y1="420" x2="447.1" y2="443.3" stroke="#222" stroke-width="1.8"/>
<line x1="447.1" y1="443.3" x2="447.1" y2="523.5" stroke="#222" stroke-width="1.0"/>
<line x1="133.6" y1="523.5" x2="474.9" y2="523.5" stroke="#222" stroke-width="1.1"/>
<line x1="162" y1="443.3" x2="234.9" y2="443.3" stroke="#222" stroke-width="1.2"/>
<line x1="373.8" y1="443.3" x2="447.1" y2="443.3" stroke="#222" stroke-width="1.2"/>
<line x1="203.4" y1="420" x2="203.4" y2="443.3" stroke="#222" stroke-width="1.0"/>
<line x1="211.4" y1="420" x2="211.4" y2="443.3" stroke="#222" stroke-width="1.0"/>
<line x1="397.5" y1="420" x2="397.5" y2="443.3" stroke="#222" stroke-width="1.0"/>
<line x1="405.4" y1="420" x2="405.4" y2="443.3" stroke="#222" stroke-width="1.0"/>
<polyline points="219,443.3 219,438.5 234.9,438.5" fill="none" stroke="#222" stroke-width="1.1" stroke-dasharray="3.5,3"/>
<polyline points="373.8,438.5 390.3,438.5 390.3,443.3" fill="none" stroke="#222" stroke-width="1.1" stroke-dasharray="3.5,3"/>
<polyline points="234.9,420 234.9,463.1 373.8,463.1 373.8,420" fill="none" stroke="#222" stroke-width="1.2"/>
<polyline points="254.4,420 254.4,443.7 354.9,443.7 354.9,420" fill="none" stroke="#222" stroke-width="1.2"/>
<line x1="234.9" y1="463.1" x2="254.4" y2="443.7" stroke="#222" stroke-width="1.0"/>
<line x1="373.8" y1="463.1" x2="354.9" y2="443.7" stroke="#222" stroke-width="1.0"/>
<line x1="237.3" y1="421" x2="237.3" y2="461" stroke="#222" stroke-width="1.1" stroke-dasharray="4.4,3.4"/>
<line x1="244.9" y1="421" x2="244.9" y2="453.2" stroke="#222" stroke-width="1.1" stroke-dasharray="4.4,3.4"/>
<line x1="252.5" y1="421" x2="252.5" y2="445.1" stroke="#222" stroke-width="1.1" stroke-dasharray="4.4,3.4"/>
<line x1="356.8" y1="421" x2="356.8" y2="445.1" stroke="#222" stroke-width="1.1" stroke-dasharray="4.4,3.4"/>
<line x1="364.3" y1="421" x2="364.3" y2="453.2" stroke="#222" stroke-width="1.1" stroke-dasharray="4.4,3.4"/>
<line x1="371.9" y1="421" x2="371.9" y2="461" stroke="#222" stroke-width="1.1" stroke-dasharray="4.4,3.4"/>
<line x1="254.4" y1="445.1" x2="354.9" y2="445.1" stroke="#222" stroke-width="1.1" stroke-dasharray="4.4,3.4"/>
<line x1="244.9" y1="453.2" x2="364.3" y2="453.2" stroke="#222" stroke-width="1.1" stroke-dasharray="4.4,3.4"/>
<line x1="237.3" y1="460.8" x2="371.9" y2="460.8" stroke="#222" stroke-width="1.1" stroke-dasharray="4.4,3.4"/>
<circle cx="304.9" cy="482.3" r="16.8" fill="none" stroke="#222" stroke-width="1.1" stroke-dasharray="5,3.2" transform="rotate(8 304.9 482.3)"/>
<circle cx="304.9" cy="482.3" r="9.8" fill="none" stroke="#222" stroke-width="1.1" stroke-dasharray="6,3"/>
<circle cx="304.9" cy="482.3" r="5.8" fill="none" stroke="#222" stroke-width="1" stroke-dasharray="4,2.5"/>
<path d="M303,480.2 A2.7,2.7 0 1 0 307,480.6" fill="none" stroke="#222" stroke-width="0.9"/>
<line x1="304.9" y1="479" x2="304.9" y2="482.5" stroke="#222" stroke-width="0.9"/>
<polyline points="297.5,464.3 304.9,468.8 312.3,464.3" fill="none" stroke="#222" stroke-width="0.8"/>
<line x1="304.9" y1="468.8" x2="304.9" y2="473.5" stroke="#222" stroke-width="0.9"/>
<line x1="162" y1="513.7" x2="447.1" y2="513.7" stroke="#222" stroke-width="1.0"/>
<polygon points="162.00,513.70 167.50,511.90 167.50,515.50" fill="#222"/>
<polygon points="447.10,513.70 441.60,511.90 441.60,515.50" fill="#222"/>
<text x="358.6" y="510" text-anchor="middle" font-family="Liberation Serif" font-size="12.5" fill="#222" stroke="#222" stroke-width="0.3" >184</text>
<line x1="418.6" y1="443.3" x2="418.6" y2="523.5" stroke="#222" stroke-width="1.0"/>
<polygon points="418.60,443.30 416.80,448.80 420.40,448.80" fill="#222"/>
<polygon points="418.60,523.50 416.80,518.00 420.40,518.00" fill="#222"/>
<text transform="translate(411.5,483) rotate(-90)" text-anchor="middle" dominant-baseline="central" font-family="Liberation Serif" font-size="12.5" fill="#222" stroke="#222" stroke-width="0.3" >52</text>
<text x="207.6" y="487.5" text-anchor="start" font-family="Liberation Serif" font-size="9" fill="#222" stroke="#222" stroke-width="0.3" font-style="italic">Fond de bassin</text>
<text x="207.6" y="497.5" text-anchor="start" font-family="Liberation Serif" font-size="9" fill="#222" stroke="#222" stroke-width="0.3" font-style="italic">épaisseur 5 cm</text>
<line x1="133.6" y1="571.6" x2="475.2" y2="571.6" stroke="#222" stroke-width="1.0"/>
<line x1="133.6" y1="559.3" x2="133.6" y2="575.5" stroke="#222" stroke-width="1.0"/>
<line x1="475.2" y1="559.3" x2="475.2" y2="575.5" stroke="#222" stroke-width="1.0"/>
<polygon points="133.60,571.60 139.10,569.80 139.10,573.40" fill="#222"/>
<polygon points="475.20,571.60 469.70,569.80 469.70,573.40" fill="#222"/>
<text x="304.8" y="568.5" text-anchor="middle" font-family="Liberation Serif" font-size="13.5" fill="#222" stroke="#222" stroke-width="0.3" >220</text>
<line x1="498.8" y1="420" x2="543.5" y2="420" stroke="#222" stroke-width="1.0"/>
<line x1="498.8" y1="551.6" x2="543.5" y2="551.6" stroke="#222" stroke-width="1.0"/>
<line x1="500" y1="420" x2="500" y2="551.6" stroke="#222" stroke-width="1.0"/>
<polygon points="500.00,420.00 498.20,425.50 501.80,425.50" fill="#222"/>
<polygon points="500.00,523.40 498.20,517.90 501.80,517.90" fill="#222"/>
<polygon points="500.00,523.40 498.20,528.90 501.80,528.90" fill="#222"/>
<polygon points="500.00,551.60 498.20,546.10 501.80,546.10" fill="#222"/>
<line x1="539.8" y1="420" x2="539.8" y2="551.6" stroke="#222" stroke-width="1.0"/>
<polygon points="539.80,420.00 538.00,425.50 541.60,425.50" fill="#222"/>
<polygon points="539.80,551.60 538.00,546.10 541.60,546.10" fill="#222"/>
<polyline points="500,523.4 519.9,517.2 519.9,496" fill="none" stroke="#222" stroke-width="1.0"/>
<text transform="translate(494,471) rotate(-90)" text-anchor="middle" dominant-baseline="central" font-family="Liberation Serif" font-size="12.7" fill="#222" stroke="#222" stroke-width="0.3" >66.5</text>
<text transform="translate(494,537.1) rotate(-90)" text-anchor="middle" dominant-baseline="central" font-family="Liberation Serif" font-size="12.5" fill="#222" stroke="#222" stroke-width="0.3" >18</text>
<text transform="translate(533.6,486) rotate(-90)" text-anchor="middle" dominant-baseline="central" font-family="Liberation Serif" font-size="13.5" fill="#222" stroke="#222" stroke-width="0.3" >85</text>
<text transform="translate(513.6,504.7) rotate(-90)" text-anchor="middle" dominant-baseline="central" font-family="Liberation Serif" font-size="12.5" fill="#222" stroke="#222" stroke-width="0.3" >0.5</text>
<rect x="701.1" y="52.4" width="65.6" height="79.1" fill="#ffffff" stroke="#e2d89c" stroke-width="1.3"/>
<path d="M708,55.3 L759.2,55.3 L759.2,66 L708,66 Z" fill="#e6d2c8"/>
<path d="M756,55.3 L759.2,55.3 L759.2,66 L756,66 Z" fill="#f1e4de"/>
<path d="M708.00,62.00 C709.17,61.58 712.33,59.75 715.00,59.50 C717.67,59.25 721.00,60.62 724.00,60.50 C727.00,60.38 730.00,58.80 733.00,58.80 C736.00,58.80 739.00,60.38 742.00,60.50 C745.00,60.62 748.33,59.25 751.00,59.50 C753.67,59.75 756.17,60.58 758.00,62.00 C759.83,63.42 761.07,65.67 762.00,68.00 C762.93,70.33 763.60,73.33 763.60,76.00 C763.60,78.67 761.98,81.33 762.00,84.00 C762.02,86.67 763.78,89.33 763.70,92.00 C763.62,94.67 762.03,97.33 761.50,100.00 C760.97,102.67 761.33,105.67 760.50,108.00 C759.67,110.33 757.75,112.33 756.50,114.00 C755.25,115.67 753.67,115.58 753.00,118.00 C752.33,120.42 759.08,126.75 752.50,128.50 C745.92,130.25 720.08,130.25 713.50,128.50 C706.92,126.75 713.83,120.58 713.00,118.00 C712.17,115.42 709.87,115.00 708.50,113.00 C707.13,111.00 705.62,108.50 704.80,106.00 C703.98,103.50 703.93,100.67 703.60,98.00 C703.27,95.33 702.70,92.67 702.80,90.00 C702.90,87.33 704.20,84.67 704.20,82.00 C704.20,79.33 702.67,76.50 702.80,74.00 C702.93,71.50 704.13,69.00 705.00,67.00 C705.87,65.00 707.50,62.83 708.00,62.00" fill="#ccae9f"/>
<path d="M759.3,89.9 A1.3,1.3 0 0 1 759.2,92.4" stroke="#b08f81" stroke-width="1.1" fill="none" opacity="0.85"/>
<path d="M740.6,70.8 A1.1,1.1 0 0 1 740.3,73.0" stroke="#eddcd4" stroke-width="1.3" fill="none" opacity="0.66"/>
<path d="M762.3,102.5 A1.9,1.9 0 0 1 761.4,106.0" stroke="#b08f81" stroke-width="0.8" fill="none" opacity="0.78"/>
<path d="M713.0,75.6 A1.9,1.9 0 0 1 716.1,73.7" stroke="#e6d2c7" stroke-width="1.0" fill="none" opacity="0.72"/>
<path d="M755.5,108.2 A1.7,1.7 0 0 1 752.2,108.4" stroke="#e6d2c7" stroke-width="1.2" fill="none" opacity="0.82"/>
<path d="M710.9,64.5 A2.3,2.3 0 0 1 709.4,68.8" stroke="#e6d2c7" stroke-width="0.8" fill="none" opacity="0.69"/>
<path d="M713.9,122.8 A2.0,2.0 0 0 1 716.7,120.1" stroke="#eddcd4" stroke-width="1.2" fill="none" opacity="0.68"/>
<path d="M716.4,105.2 A1.5,1.5 0 0 1 714.0,106.6" stroke="#e6d2c7" stroke-width="1.3" fill="none" opacity="0.58"/>
<path d="M708.5,76.1 A1.7,1.7 0 0 1 711.5,75.0" stroke="#8a6b5e" stroke-width="1.3" fill="none" opacity="0.55"/>
<path d="M713.2,95.2 A1.6,1.6 0 0 1 714.9,92.6" stroke="#f3e6df" stroke-width="1.1" fill="none" opacity="0.82"/>
<path d="M739.8,126.6 A1.6,1.6 0 0 1 738.7,129.4" stroke="#8a6b5e" stroke-width="1.2" fill="none" opacity="0.62"/>
<path d="M717.2,77.5 A1.4,1.4 0 0 1 714.5,76.9" stroke="#b08f81" stroke-width="0.9" fill="none" opacity="0.67"/>
<path d="M739.6,77.1 A1.9,1.9 0 0 1 736.4,75.3" stroke="#b08f81" stroke-width="1.2" fill="none" opacity="0.68"/>
<path d="M754.4,67.7 A1.2,1.2 0 0 1 752.8,69.5" stroke="#eddcd4" stroke-width="1.4" fill="none" opacity="0.61"/>
<path d="M717.4,70.5 A1.8,1.8 0 0 1 719.5,73.1" stroke="#f3e6df" stroke-width="1.1" fill="none" opacity="0.77"/>
<path d="M733.2,64.2 A1.1,1.1 0 0 1 731.4,65.2" stroke="#8a6b5e" stroke-width="1.0" fill="none" opacity="0.59"/>
<path d="M747.2,76.0 A1.7,1.7 0 0 1 744.7,78.2" stroke="#b08f81" stroke-width="1.5" fill="none" opacity="0.72"/>
<path d="M710.3,93.9 A1.9,1.9 0 0 1 710.0,90.3" stroke="#f3e6df" stroke-width="1.4" fill="none" opacity="0.85"/>
<path d="M716.6,60.5 A1.3,1.3 0 0 1 714.0,60.5" stroke="#e6d2c7" stroke-width="1.0" fill="none" opacity="0.69"/>
<path d="M737.4,125.9 A2.2,2.2 0 0 1 733.4,127.5" stroke="#8a6b5e" stroke-width="1.3" fill="none" opacity="0.68"/>
<path d="M710.9,62.8 A1.5,1.5 0 0 1 711.3,59.9" stroke="#8a6b5e" stroke-width="0.8" fill="none" opacity="0.72"/>
<path d="M740.6,64.2 A1.4,1.4 0 0 1 738.0,64.9" stroke="#8a6b5e" stroke-width="0.9" fill="none" opacity="0.81"/>
<path d="M756.2,111.8 A2.3,2.3 0 0 1 757.5,107.5" stroke="#f3e6df" stroke-width="0.9" fill="none" opacity="0.60"/>
<path d="M730.6,64.4 A1.0,1.0 0 0 1 732.5,63.8" stroke="#eddcd4" stroke-width="0.8" fill="none" opacity="0.88"/>
<path d="M742.4,84.3 A1.1,1.1 0 0 1 744.1,85.5" stroke="#8a6b5e" stroke-width="1.5" fill="none" opacity="0.76"/>
<path d="M754.3,109.8 A2.0,2.0 0 0 1 757.6,107.8" stroke="#eddcd4" stroke-width="1.1" fill="none" opacity="0.88"/>
<path d="M733.7,79.2 A1.3,1.3 0 0 1 735.1,81.3" stroke="#8a6b5e" stroke-width="1.1" fill="none" opacity="0.72"/>
<path d="M741.1,123.7 A1.5,1.5 0 0 1 738.8,122.0" stroke="#e6d2c7" stroke-width="1.2" fill="none" opacity="0.86"/>
<path d="M723.0,121.9 A1.5,1.5 0 0 1 725.0,123.9" stroke="#eddcd4" stroke-width="0.9" fill="none" opacity="0.86"/>
<path d="M724.3,69.0 A2.3,2.3 0 0 1 720.0,69.0" stroke="#eddcd4" stroke-width="0.8" fill="none" opacity="0.67"/>
<path d="M708.3,91.3 A1.5,1.5 0 0 1 711.2,90.9" stroke="#987a6d" stroke-width="1.3" fill="none" opacity="0.84"/>
<path d="M747.4,117.3 A1.1,1.1 0 0 1 745.3,117.5" stroke="#b08f81" stroke-width="1.4" fill="none" opacity="0.71"/>
<path d="M703.8,107.2 A1.9,1.9 0 0 1 707.4,107.6" stroke="#b08f81" stroke-width="1.2" fill="none" opacity="0.67"/>
<path d="M728.7,72.5 A1.2,1.2 0 0 1 726.4,72.4" stroke="#e6d2c7" stroke-width="1.2" fill="none" opacity="0.63"/>
<path d="M741.4,114.9 A1.3,1.3 0 0 1 743.6,113.9" stroke="#8a6b5e" stroke-width="0.9" fill="none" opacity="0.79"/>
<path d="M703.9,90.3 A1.3,1.3 0 0 1 704.1,92.8" stroke="#f3e6df" stroke-width="1.2" fill="none" opacity="0.56"/>
<path d="M762.0,92.4 A2.1,2.1 0 0 1 759.4,95.4" stroke="#987a6d" stroke-width="0.9" fill="none" opacity="0.69"/>
<path d="M709.9,90.0 A1.0,1.0 0 0 1 711.8,90.1" stroke="#f3e6df" stroke-width="1.3" fill="none" opacity="0.86"/>
<path d="M733.9,117.4 A1.9,1.9 0 0 1 732.0,114.2" stroke="#e6d2c7" stroke-width="1.3" fill="none" opacity="0.71"/>
<path d="M751.5,104.1 A1.3,1.3 0 0 1 753.0,102.0" stroke="#f3e6df" stroke-width="0.9" fill="none" opacity="0.59"/>
<path d="M723.7,126.6 A2.0,2.0 0 0 1 719.9,127.3" stroke="#e6d2c7" stroke-width="1.2" fill="none" opacity="0.64"/>
<path d="M706.9,82.9 A1.7,1.7 0 0 1 703.7,83.2" stroke="#eddcd4" stroke-width="1.4" fill="none" opacity="0.82"/>
<path d="M715.4,80.7 A2.4,2.4 0 0 1 712.5,84.3" stroke="#987a6d" stroke-width="1.2" fill="none" opacity="0.71"/>
<path d="M754.9,98.7 A1.3,1.3 0 0 1 757.5,98.5" stroke="#f3e6df" stroke-width="1.0" fill="none" opacity="0.58"/>
<path d="M736.5,116.7 A1.9,1.9 0 0 1 733.3,118.6" stroke="#b08f81" stroke-width="1.4" fill="none" opacity="0.64"/>
<path d="M738.3,79.2 A1.7,1.7 0 0 1 741.6,79.9" stroke="#987a6d" stroke-width="0.9" fill="none" opacity="0.89"/>
<path d="M740.1,59.4 A1.6,1.6 0 0 1 740.0,62.4" stroke="#8a6b5e" stroke-width="1.2" fill="none" opacity="0.73"/>
<path d="M705.2,97.4 A2.1,2.1 0 0 1 707.9,94.2" stroke="#eddcd4" stroke-width="1.0" fill="none" opacity="0.87"/>
<path d="M760.3,94.4 A1.9,1.9 0 0 1 757.7,96.8" stroke="#8a6b5e" stroke-width="0.9" fill="none" opacity="0.62"/>
<path d="M749.9,61.6 A1.0,1.0 0 0 1 749.8,59.6" stroke="#987a6d" stroke-width="1.3" fill="none" opacity="0.60"/>
<path d="M752.9,102.7 A1.7,1.7 0 0 1 755.6,100.6" stroke="#f3e6df" stroke-width="1.1" fill="none" opacity="0.62"/>
<path d="M712.9,74.4 A1.3,1.3 0 0 1 711.8,72.1" stroke="#f3e6df" stroke-width="1.2" fill="none" opacity="0.74"/>
<path d="M739.1,69.8 A1.5,1.5 0 0 1 737.3,67.6" stroke="#f3e6df" stroke-width="1.2" fill="none" opacity="0.77"/>
<path d="M757.0,73.6 A1.2,1.2 0 0 1 756.2,71.5" stroke="#987a6d" stroke-width="1.3" fill="none" opacity="0.86"/>
<path d="M719.3,67.6 A2.0,2.0 0 0 1 717.2,64.4" stroke="#eddcd4" stroke-width="1.2" fill="none" opacity="0.74"/>
<path d="M753.6,65.2 A2.3,2.3 0 0 1 749.7,67.2" stroke="#b08f81" stroke-width="0.9" fill="none" opacity="0.79"/>
<path d="M712.9,62.5 A2.1,2.1 0 0 1 716.5,64.2" stroke="#8a6b5e" stroke-width="1.4" fill="none" opacity="0.56"/>
<path d="M734.3,71.9 A2.2,2.2 0 0 1 730.3,73.3" stroke="#8a6b5e" stroke-width="1.4" fill="none" opacity="0.62"/>
<path d="M707.8,65.1 A2.1,2.1 0 0 1 708.6,61.2" stroke="#f3e6df" stroke-width="1.1" fill="none" opacity="0.71"/>
<path d="M738.3,60.6 A1.3,1.3 0 0 1 739.9,58.8" stroke="#f3e6df" stroke-width="1.1" fill="none" opacity="0.56"/>
<path d="M727.1,122.8 A1.7,1.7 0 0 1 723.8,123.3" stroke="#b08f81" stroke-width="1.4" fill="none" opacity="0.61"/>
<path d="M752.2,109.3 A1.8,1.8 0 0 1 750.1,106.5" stroke="#f3e6df" stroke-width="1.2" fill="none" opacity="0.88"/>
<path d="M718.1,68.2 A2.1,2.1 0 0 1 720.8,65.1" stroke="#f3e6df" stroke-width="1.4" fill="none" opacity="0.82"/>
<path d="M756.0,105.4 A1.6,1.6 0 0 1 757.3,108.1" stroke="#eddcd4" stroke-width="0.8" fill="none" opacity="0.82"/>
<path d="M703.5,84.6 A1.1,1.1 0 0 1 703.2,82.6" stroke="#f3e6df" stroke-width="1.5" fill="none" opacity="0.87"/>
<path d="M719.7,75.0 A1.7,1.7 0 0 1 721.7,72.3" stroke="#eddcd4" stroke-width="1.5" fill="none" opacity="0.75"/>
<path d="M749.2,127.8 A1.2,1.2 0 0 1 748.4,125.7" stroke="#8a6b5e" stroke-width="1.1" fill="none" opacity="0.59"/>
<path d="M740.0,59.0 A2.3,2.3 0 0 1 744.4,59.2" stroke="#e6d2c7" stroke-width="1.2" fill="none" opacity="0.64"/>
<path d="M763.4,99.2 A2.1,2.1 0 0 1 759.4,98.3" stroke="#8a6b5e" stroke-width="1.2" fill="none" opacity="0.77"/>
<path d="M750.4,60.3 A2.4,2.4 0 0 1 748.7,64.5" stroke="#987a6d" stroke-width="1.2" fill="none" opacity="0.69"/>
<path d="M732.6,80.1 A1.5,1.5 0 0 1 732.4,77.2" stroke="#eddcd4" stroke-width="1.3" fill="none" opacity="0.76"/>
<path d="M737.1,77.5 A1.0,1.0 0 0 1 737.3,79.5" stroke="#f3e6df" stroke-width="1.2" fill="none" opacity="0.81"/>
<path d="M745.5,62.6 A1.1,1.1 0 0 1 743.5,63.3" stroke="#e6d2c7" stroke-width="1.5" fill="none" opacity="0.81"/>
<path d="M763.7,74.7 A2.1,2.1 0 0 1 760.9,77.7" stroke="#b08f81" stroke-width="0.9" fill="none" opacity="0.58"/>
<path d="M759.3,76.4 A1.9,1.9 0 0 1 762.4,74.5" stroke="#f3e6df" stroke-width="0.9" fill="none" opacity="0.59"/>
<path d="M705.1,96.0 A1.2,1.2 0 0 1 706.7,94.4" stroke="#8a6b5e" stroke-width="1.2" fill="none" opacity="0.68"/>
<path d="M753.3,69.3 A1.3,1.3 0 0 1 751.0,68.2" stroke="#e6d2c7" stroke-width="1.4" fill="none" opacity="0.81"/>
<path d="M750.2,100.3 A1.9,1.9 0 0 1 751.6,103.5" stroke="#e6d2c7" stroke-width="1.3" fill="none" opacity="0.65"/>
<path d="M715.8,78.1 A1.3,1.3 0 0 1 713.4,79.1" stroke="#987a6d" stroke-width="1.4" fill="none" opacity="0.62"/>
<path d="M757.5,62.0 A1.4,1.4 0 0 1 754.9,62.2" stroke="#8a6b5e" stroke-width="0.8" fill="none" opacity="0.55"/>
<path d="M716.6,79.4 A1.2,1.2 0 0 1 715.7,77.2" stroke="#8a6b5e" stroke-width="1.5" fill="none" opacity="0.87"/>
<path d="M749.6,90.6 A2.1,2.1 0 0 1 752.8,88.2" stroke="#b08f81" stroke-width="1.3" fill="none" opacity="0.84"/>
<path d="M725.5,71.5 A2.4,2.4 0 0 1 726.4,67.0" stroke="#987a6d" stroke-width="1.2" fill="none" opacity="0.78"/>
<path d="M746.4,123.0 A1.8,1.8 0 0 1 749.4,121.3" stroke="#eddcd4" stroke-width="1.0" fill="none" opacity="0.78"/>
<path d="M739.2,116.2 A2.1,2.1 0 0 1 735.3,115.4" stroke="#eddcd4" stroke-width="0.9" fill="none" opacity="0.65"/>
<path d="M742.1,66.5 A2.1,2.1 0 0 1 742.9,62.6" stroke="#e6d2c7" stroke-width="1.4" fill="none" opacity="0.72"/>
<path d="M724.4,120.6 A1.8,1.8 0 0 1 721.9,123.1" stroke="#e6d2c7" stroke-width="1.5" fill="none" opacity="0.80"/>
<path d="M759.5,89.0 A1.3,1.3 0 0 1 757.3,90.1" stroke="#e6d2c7" stroke-width="1.3" fill="none" opacity="0.71"/>
<path d="M732.5,63.8 A1.9,1.9 0 0 1 736.2,64.8" stroke="#e6d2c7" stroke-width="1.4" fill="none" opacity="0.56"/>
<path d="M745.7,83.6 A2.2,2.2 0 0 1 749.8,84.1" stroke="#eddcd4" stroke-width="0.9" fill="none" opacity="0.74"/>
<path d="M750.1,120.2 A1.3,1.3 0 0 1 747.6,120.0" stroke="#e6d2c7" stroke-width="0.9" fill="none" opacity="0.83"/>
<path d="M721.3,58.8 A1.8,1.8 0 0 1 721.4,62.2" stroke="#eddcd4" stroke-width="0.9" fill="none" opacity="0.57"/>
<path d="M709.1,111.3 A1.9,1.9 0 0 1 706.2,109.2" stroke="#e6d2c7" stroke-width="1.3" fill="none" opacity="0.58"/>
<path d="M741.1,77.9 A2.3,2.3 0 0 1 742.3,73.7" stroke="#987a6d" stroke-width="1.1" fill="none" opacity="0.72"/>
<path d="M722.6,114.3 A1.7,1.7 0 0 1 725.8,114.2" stroke="#e6d2c7" stroke-width="1.3" fill="none" opacity="0.79"/>
<path d="M744.5,124.1 A2.4,2.4 0 0 1 746.0,119.8" stroke="#eddcd4" stroke-width="0.8" fill="none" opacity="0.81"/>
<path d="M724.0,64.9 A1.9,1.9 0 0 1 727.6,64.4" stroke="#eddcd4" stroke-width="1.3" fill="none" opacity="0.89"/>
<path d="M752.2,89.2 A1.3,1.3 0 0 1 750.3,87.5" stroke="#eddcd4" stroke-width="1.2" fill="none" opacity="0.87"/>
<path d="M745.8,80.9 A1.4,1.4 0 0 1 743.3,82.1" stroke="#eddcd4" stroke-width="0.8" fill="none" opacity="0.70"/>
<path d="M723.6,65.7 A2.3,2.3 0 0 1 720.6,69.0" stroke="#f3e6df" stroke-width="1.3" fill="none" opacity="0.60"/>
<path d="M703.2,93.2 A1.3,1.3 0 0 1 704.2,90.9" stroke="#8a6b5e" stroke-width="1.2" fill="none" opacity="0.66"/>
<path d="M754.9,86.1 A2.3,2.3 0 0 1 759.4,86.3" stroke="#e6d2c7" stroke-width="1.4" fill="none" opacity="0.77"/>
<path d="M762.1,105.0 A1.3,1.3 0 0 1 759.5,104.9" stroke="#8a6b5e" stroke-width="1.5" fill="none" opacity="0.72"/>
<path d="M752.0,83.5 A2.1,2.1 0 0 1 752.1,87.5" stroke="#b08f81" stroke-width="0.8" fill="none" opacity="0.83"/>
<path d="M730.9,77.0 A1.2,1.2 0 0 1 729.1,75.5" stroke="#eddcd4" stroke-width="1.0" fill="none" opacity="0.76"/>
<path d="M717.2,117.6 A2.0,2.0 0 0 1 720.7,119.4" stroke="#b08f81" stroke-width="1.2" fill="none" opacity="0.60"/>
<path d="M707.4,96.7 A2.1,2.1 0 0 1 706.1,100.6" stroke="#987a6d" stroke-width="1.4" fill="none" opacity="0.55"/>
<path d="M707.2,75.5 A2.2,2.2 0 0 1 709.7,79.0" stroke="#f3e6df" stroke-width="0.9" fill="none" opacity="0.73"/>
<path d="M746.5,97.5 A2.1,2.1 0 0 1 749.3,94.7" stroke="#b08f81" stroke-width="1.4" fill="none" opacity="0.66"/>
<path d="M733.3,69.3 A1.6,1.6 0 0 1 736.3,69.6" stroke="#e6d2c7" stroke-width="1.5" fill="none" opacity="0.66"/>
<path d="M742.5,64.3 A1.1,1.1 0 0 1 743.8,62.6" stroke="#8a6b5e" stroke-width="1.1" fill="none" opacity="0.79"/>
<path d="M742.1,61.5 A1.7,1.7 0 0 1 742.1,58.2" stroke="#eddcd4" stroke-width="0.9" fill="none" opacity="0.80"/>
<path d="M749.2,119.9 A1.9,1.9 0 0 1 749.2,116.3" stroke="#f3e6df" stroke-width="1.1" fill="none" opacity="0.62"/>
<path d="M737.2,80.5 A1.8,1.8 0 0 1 733.9,79.6" stroke="#e6d2c7" stroke-width="0.9" fill="none" opacity="0.81"/>
<path d="M725.5,64.8 A1.8,1.8 0 0 1 726.9,67.9" stroke="#e6d2c7" stroke-width="1.0" fill="none" opacity="0.88"/>
<path d="M752.2,64.5 A1.2,1.2 0 0 1 754.2,65.7" stroke="#987a6d" stroke-width="0.9" fill="none" opacity="0.77"/>
<path d="M714.9,62.6 A1.1,1.1 0 0 1 714.0,60.6" stroke="#eddcd4" stroke-width="0.9" fill="none" opacity="0.76"/>
<path d="M712.4,86.1 A2.2,2.2 0 0 1 709.4,88.9" stroke="#8a6b5e" stroke-width="0.9" fill="none" opacity="0.67"/>
<path d="M714.2,70.0 A1.5,1.5 0 0 1 716.1,67.9" stroke="#f3e6df" stroke-width="0.8" fill="none" opacity="0.69"/>
<path d="M702.6,81.3 A1.6,1.6 0 0 1 705.7,81.5" stroke="#e6d2c7" stroke-width="0.9" fill="none" opacity="0.66"/>
<path d="M723.3,78.0 A1.2,1.2 0 0 1 723.7,80.4" stroke="#8a6b5e" stroke-width="1.4" fill="none" opacity="0.76"/>
<path d="M735.6,68.7 A2.3,2.3 0 0 1 731.3,70.0" stroke="#f3e6df" stroke-width="1.3" fill="none" opacity="0.62"/>
<path d="M760.7,98.8 A1.3,1.3 0 0 1 758.3,98.2" stroke="#8a6b5e" stroke-width="1.0" fill="none" opacity="0.77"/>
<path d="M720.8,123.8 A2.2,2.2 0 0 1 724.4,121.4" stroke="#e6d2c7" stroke-width="1.3" fill="none" opacity="0.64"/>
<path d="M737.7,62.2 A2.0,2.0 0 0 1 735.3,65.3" stroke="#e6d2c7" stroke-width="1.0" fill="none" opacity="0.61"/>
<path d="M704.1,104.7 A1.8,1.8 0 0 1 703.3,108.1" stroke="#e6d2c7" stroke-width="0.9" fill="none" opacity="0.63"/>
<path d="M738.0,63.4 A2.1,2.1 0 0 1 735.0,66.0" stroke="#8a6b5e" stroke-width="1.5" fill="none" opacity="0.69"/>
<path d="M710.2,109.7 A1.9,1.9 0 0 1 713.1,111.8" stroke="#f3e6df" stroke-width="1.3" fill="none" opacity="0.87"/>
<path d="M711.2,86.8 A1.5,1.5 0 0 1 714.1,87.3" stroke="#8a6b5e" stroke-width="0.9" fill="none" opacity="0.60"/>
<path d="M734.7,76.1 A1.1,1.1 0 0 1 734.8,78.2" stroke="#b08f81" stroke-width="1.3" fill="none" opacity="0.88"/>
<path d="M749.2,87.7 A1.7,1.7 0 0 1 751.4,85.3" stroke="#eddcd4" stroke-width="1.2" fill="none" opacity="0.76"/>
<path d="M746.0,109.3 A2.4,2.4 0 0 1 744.7,113.7" stroke="#e6d2c7" stroke-width="1.4" fill="none" opacity="0.72"/>
<path d="M735.7,122.3 A1.7,1.7 0 0 1 738.1,120.0" stroke="#b08f81" stroke-width="0.8" fill="none" opacity="0.67"/>
<path d="M756.2,78.3 A2.0,2.0 0 0 1 759.9,79.6" stroke="#b08f81" stroke-width="1.3" fill="none" opacity="0.87"/>
<path d="M709.4,67.2 A2.2,2.2 0 0 1 705.5,69.0" stroke="#eddcd4" stroke-width="1.1" fill="none" opacity="0.63"/>
<path d="M756.1,86.5 A2.1,2.1 0 0 1 754.3,82.8" stroke="#b08f81" stroke-width="1.3" fill="none" opacity="0.70"/>
<path d="M738.2,120.5 A1.2,1.2 0 0 1 737.0,122.5" stroke="#8a6b5e" stroke-width="1.2" fill="none" opacity="0.73"/>
<path d="M731.8,80.0 A1.5,1.5 0 0 1 729.0,79.6" stroke="#f3e6df" stroke-width="1.4" fill="none" opacity="0.65"/>
<path d="M751.9,87.7 A1.3,1.3 0 0 1 752.1,85.1" stroke="#e6d2c7" stroke-width="1.1" fill="none" opacity="0.79"/>
<path d="M719.7,81.8 A2.4,2.4 0 0 1 723.8,79.8" stroke="#987a6d" stroke-width="0.9" fill="none" opacity="0.88"/>
<path d="M719.5,124.4 A2.2,2.2 0 0 1 721.1,120.5" stroke="#8a6b5e" stroke-width="1.1" fill="none" opacity="0.62"/>
<path d="M714.1,121.5 A1.9,1.9 0 0 1 711.9,118.5" stroke="#b08f81" stroke-width="1.4" fill="none" opacity="0.62"/>
<path d="M705.7,68.6 A2.3,2.3 0 0 1 705.1,64.2" stroke="#f3e6df" stroke-width="1.1" fill="none" opacity="0.84"/>
<path d="M757.0,81.2 A1.2,1.2 0 0 1 756.0,83.3" stroke="#eddcd4" stroke-width="0.9" fill="none" opacity="0.70"/>
<path d="M745.3,75.7 A1.9,1.9 0 0 1 745.4,79.4" stroke="#f3e6df" stroke-width="1.1" fill="none" opacity="0.63"/>
<path d="M744.9,118.6 A2.4,2.4 0 0 1 742.2,122.2" stroke="#b08f81" stroke-width="0.9" fill="none" opacity="0.73"/>
<path d="M714.5,69.0 A2.4,2.4 0 0 1 718.1,66.3" stroke="#f3e6df" stroke-width="1.2" fill="none" opacity="0.58"/>
<path d="M733.6,62.9 A1.8,1.8 0 0 1 736.0,60.6" stroke="#b08f81" stroke-width="1.2" fill="none" opacity="0.76"/>
<path d="M715.5,70.6 A1.3,1.3 0 0 1 714.0,72.5" stroke="#f3e6df" stroke-width="1.5" fill="none" opacity="0.74"/>
<path d="M702.7,90.9 A2.3,2.3 0 0 1 707.0,89.7" stroke="#b08f81" stroke-width="0.9" fill="none" opacity="0.68"/>
<path d="M752.2,94.5 A1.9,1.9 0 0 1 748.9,95.8" stroke="#b08f81" stroke-width="1.3" fill="none" opacity="0.84"/>
<path d="M749.9,65.1 A1.6,1.6 0 0 1 750.3,68.2" stroke="#eddcd4" stroke-width="1.4" fill="none" opacity="0.63"/>
<path d="M749.1,74.0 A2.2,2.2 0 0 1 753.0,75.5" stroke="#eddcd4" stroke-width="1.0" fill="none" opacity="0.74"/>
<path d="M716.2,128.0 A2.2,2.2 0 0 1 713.4,124.7" stroke="#8a6b5e" stroke-width="0.9" fill="none" opacity="0.75"/>
<path d="M705.3,91.7 A2.0,2.0 0 0 1 703.8,95.2" stroke="#eddcd4" stroke-width="0.8" fill="none" opacity="0.73"/>
<path d="M710.1,73.4 A2.1,2.1 0 0 1 708.7,69.6" stroke="#f3e6df" stroke-width="0.9" fill="none" opacity="0.74"/>
<path d="M722.2,59.9 A2.0,2.0 0 0 1 722.5,63.8" stroke="#e6d2c7" stroke-width="1.3" fill="none" opacity="0.84"/>
<path d="M731.8,80.5 A1.3,1.3 0 0 1 729.5,81.7" stroke="#eddcd4" stroke-width="0.8" fill="none" opacity="0.68"/>
<path d="M765.0,69.0 A2.4,2.4 0 0 1 760.6,70.2" stroke="#eddcd4" stroke-width="1.1" fill="none" opacity="0.73"/>
<path d="M736.2,66.0 A1.6,1.6 0 0 1 733.2,65.4" stroke="#b08f81" stroke-width="0.8" fill="none" opacity="0.65"/>
<path d="M745.5,75.9 A2.2,2.2 0 0 1 748.5,72.9" stroke="#e6d2c7" stroke-width="0.9" fill="none" opacity="0.59"/>
<path d="M715.7,79.7 A1.2,1.2 0 0 1 718.0,80.3" stroke="#b08f81" stroke-width="1.5" fill="none" opacity="0.63"/>
<path d="M758.0,72.1 A1.3,1.3 0 0 1 759.2,70.0" stroke="#eddcd4" stroke-width="0.8" fill="none" opacity="0.88"/>
<path d="M727.0,77.0 A1.7,1.7 0 0 1 729.0,74.5" stroke="#b08f81" stroke-width="1.2" fill="none" opacity="0.83"/>
<path d="M750.2,90.1 A2.0,2.0 0 0 1 748.6,93.5" stroke="#eddcd4" stroke-width="0.9" fill="none" opacity="0.90"/>
<path d="M724.5,62.4 A2.3,2.3 0 0 1 728.4,64.5" stroke="#f3e6df" stroke-width="1.2" fill="none" opacity="0.65"/>
<path d="M747.6,96.3 A2.0,2.0 0 0 1 747.0,92.5" stroke="#b08f81" stroke-width="1.1" fill="none" opacity="0.87"/>
<path d="M744.7,122.3 A2.2,2.2 0 0 1 748.2,119.9" stroke="#8a6b5e" stroke-width="1.4" fill="none" opacity="0.90"/>
<path d="M725.0,75.8 A1.4,1.4 0 0 1 727.5,76.9" stroke="#b08f81" stroke-width="1.1" fill="none" opacity="0.78"/>
<path d="M713.1,95.1 A1.4,1.4 0 0 1 715.1,93.2" stroke="#987a6d" stroke-width="1.2" fill="none" opacity="0.56"/>
<path d="M710.1,108.9 A1.6,1.6 0 0 1 711.6,106.2" stroke="#e6d2c7" stroke-width="1.4" fill="none" opacity="0.66"/>
<path d="M754.5,94.8 A1.5,1.5 0 0 1 753.2,97.4" stroke="#eddcd4" stroke-width="1.0" fill="none" opacity="0.69"/>
<path d="M720.6,80.6 A2.2,2.2 0 0 1 721.8,84.7" stroke="#987a6d" stroke-width="1.1" fill="none" opacity="0.60"/>
<path d="M747.5,103.4 A1.3,1.3 0 0 1 749.0,105.4" stroke="#8a6b5e" stroke-width="1.3" fill="none" opacity="0.87"/>
<path d="M710.0,87.8 A1.7,1.7 0 0 1 707.5,89.9" stroke="#eddcd4" stroke-width="1.0" fill="none" opacity="0.72"/>
<path d="M716.00,88.00 C716.67,87.25 717.42,84.50 720.00,83.50 C722.58,82.50 727.67,82.00 731.50,82.00 C735.33,82.00 740.33,82.50 743.00,83.50 C745.67,84.50 746.67,85.75 747.50,88.00 C748.33,90.25 748.25,94.17 748.00,97.00 C747.75,99.83 747.08,102.58 746.00,105.00 C744.92,107.42 743.33,109.92 741.50,111.50 C739.67,113.08 736.67,113.95 735.00,114.50 C733.33,115.05 732.67,114.80 731.50,114.80 C730.33,114.80 729.67,115.05 728.00,114.50 C726.33,113.95 723.33,113.08 721.50,111.50 C719.67,109.92 718.08,107.42 717.00,105.00 C715.92,102.58 715.17,99.83 715.00,97.00 C714.83,94.17 715.83,89.50 716.00,88.00" fill="#e9d6cc"/>
<ellipse cx="731.5" cy="96" rx="11" ry="9" fill="#efe0d8" opacity="0.8"/>
<path d="M719,90 C722,88 726,88.5 729,90 M734,90 C737,88.5 741,88 744,90" stroke="#a2867a" stroke-width="1.2" fill="none"/>
<ellipse cx="724" cy="92.3" rx="3" ry="1.2" fill="#a98d81"/><ellipse cx="739.3" cy="92.3" rx="3" ry="1.2" fill="#a98d81"/>
<path d="M731.5,93 C730.5,97 729.5,100 729.8,103 C731,104.2 733,104.2 734,103" stroke="#b89a8e" stroke-width="1.3" fill="none"/>
<path d="M725.5,107.8 C729,106.8 734,106.8 737.5,107.8" stroke="#9e8276" stroke-width="1.3" fill="none"/>
<path d="M727,110.5 C730,111.5 733,111.5 736,110.5" stroke="#c0a296" stroke-width="1" fill="none"/>
<path d="M713.5,128.6 L752.5,128.6" stroke="#8c7164" stroke-width="1.2"/>
<text x="733.4" y="147.1" text-anchor="middle" font-family="Liberation Sans" font-size="14.5" textLength="67" lengthAdjust="spacingAndGlyphs" fill="#c2b650">Pierres-Info</text>
</svg>
</body></html>
